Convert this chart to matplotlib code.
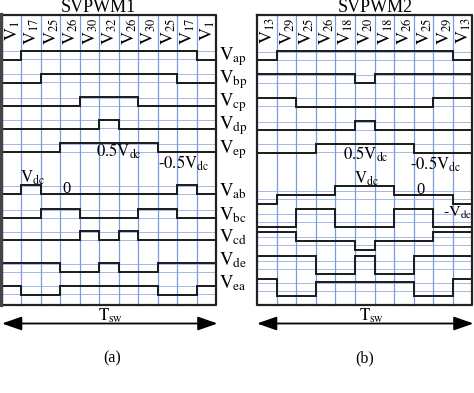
import numpy as np
import matplotlib
matplotlib.use("Agg")
import matplotlib.pyplot as plt

plt.rcParams['font.family'] = ['Liberation Serif', 'DejaVu Serif']
plt.rcParams['mathtext.fontset'] = 'stix'

# switching sequence per sub-interval (column headers)
seq_a = ["1", "17", "25", "26", "30", "32", "26", "30", "25", "17", "1"]
seq_b = ["13", "29", "25", "26", "18", "20", "18", "26", "25", "29", "13"]

signals = ["ap", "bp", "cp", "dp", "ep", "ab", "bc", "cd", "de", "ea"]

# levels of each waveform in every sub-interval (units of one step)
ap_a = [0, 1, 1, 1, 1, 1, 1, 1, 1, 1, 0]
bp_a = [0, 0, 1, 1, 1, 1, 1, 1, 1, 0, 0]
cp_a = [0, 0, 0, 0, 1, 1, 1, 0, 0, 0, 0]
dp_a = [0, 0, 0, 0, 0, 1, 0, 0, 0, 0, 0]
ep_a = [0, 0, 0, 1, 1, 1, 1, 1, 0, 0, 0]
ab_a = [0, 1, 0, 0, 0, 0, 0, 0, 0, 1, 0]
bc_a = [0, 0, 1, 1, 0, 0, 0, 1, 1, 0, 0]
cd_a = [0, 0, 0, 0, 1, 0, 1, 0, 0, 0, 0]
de_a = [0, 0, 0, -1, -1, 0, -1, -1, 0, 0, 0]
ea_a = [0, -1, -1, 0, 0, 0, 0, 0, -1, -1, 0]

ap_b = [0, 1, 1, 1, 1, 1, 1, 1, 1, 1, 0]
bp_b = [1, 1, 1, 1, 1, 0, 1, 1, 1, 1, 1]
cp_b = [1, 1, 0, 0, 0, 0, 0, 0, 0, 1, 1]
dp_b = [0, 0, 0, 0, 0, 1, 0, 0, 0, 0, 0]
ep_b = [0, 0, 0, 1, 1, 1, 1, 1, 0, 0, 0]
ab_b = [-1, 0, 0, 0, 1, 1, 1, 0, 0, 0, -1]
bc_b = [-1, -1, 1, 1, -1, -1, -1, 1, 1, -1, -1]
cd_b = [1, 1, 0, 0, 0, -1, 0, 0, 0, 1, 1]
de_b = [1, 1, 1, -1, -1, 1, -1, -1, 1, 1, 1]
ea_b = [0.35, -1.6, -1.6, 0, 0, 0, 0, 0, -1.6, -1.6, 0.35]

waves_a = [ap_a, bp_a, cp_a, dp_a, ep_a, ab_a, bc_a, cd_a, de_a, ea_a]
waves_b = [ap_b, bp_b, cp_b, dp_b, ep_b, ab_b, bc_b, cd_b, de_b, ea_b]

# layout (pixels)
base_a = [59.5, 82.7, 106, 128.5, 152.3, 194.3, 218.3, 240, 263.3, 285.7]
base_b = [60, 83.3, 106.7, 130, 152.7, 195, 218.3, 241, 265, 281.7]
STEP = 9.0
TOP, BOT = 15, 304.5
GRID = '#7d9be0'

fig = plt.figure(figsize=(4.74, 3.93), dpi=100)
ax = fig.add_axes([0, 0, 1, 1])
ax.set_xlim(0, 474)
ax.set_ylim(393, 0)
ax.axis('off')


def panel(left, right, seq, waves, bases):
    edges = np.linspace(left, right, len(seq) + 1)
    # vertical grid
    for e in edges[1:-1]:
        ax.plot([e, e], [TOP, BOT], color=GRID, lw=0.9, zorder=1)
    # horizontal grid, two lines inside each row band
    for w, b in zip(waves, bases):
        lv = np.array(w, dtype=float)
        hi = b - STEP * lv.max()
        lo = b - STEP * lv.min()
        if lo - hi < STEP:
            hi, lo = b - STEP, b
        c = (hi + lo) / 2
        for yy in (c - 4, c + 4):
            ax.plot([left, right], [yy, yy], color=GRID, lw=0.7, alpha=0.7, zorder=1)
    # waveforms
    for w, b in zip(waves, bases):
        ys = b - STEP * np.array(w, dtype=float)
        xs = np.repeat(edges, 2)[1:-1]
        ax.plot(xs, np.repeat(ys, 2), color='#1a1a1a', lw=1.4, zorder=3,
                solid_joinstyle='miter')
    # frame
    ax.plot([left, right, right, left, left], [TOP, TOP, BOT, BOT, TOP],
            color='#222222', lw=1.6, zorder=4)
    # column headers
    for i, s in enumerate(seq):
        xc = (edges[i] + edges[i + 1]) / 2
        ax.text(xc + 1, 31, r'$\mathrm{V}_{%s}$' % s, rotation=90, fontsize=13,
                ha='center', va='center', zorder=5)
    # T_sw arrow
    ax.annotate('', xy=(left, 323.5), xytext=(right + 1, 323.5),
                arrowprops=dict(arrowstyle='<|-|>,head_length=1.2,head_width=0.42',
                                color='black', lw=1.3, mutation_scale=10,
                                shrinkA=0, shrinkB=0))


panel(2, 216.5, seq_a, waves_a, base_a)
panel(257, 472.5, seq_b, waves_b, base_b)

# thick left border of panel (a)
ax.plot([1.5, 1.5], [TOP, BOT], color='#444444', lw=3, zorder=4)

# row labels between panels
for s, b in zip(signals, base_a):
    ax.text(219, b - 3, r'$\mathrm{V}_{\mathrm{%s}}$' % s, fontsize=13.5,
            ha='left', va='center')

ax.text(98, 7, 'SVPWM1', fontsize=13, ha='center', va='center')
ax.text(375, 7, 'SVPWM2', fontsize=13, ha='center', va='center')

# level annotations
fs = 12
ax.text(119, 151, r'$0.5\mathrm{V}_{\mathrm{dc}}$', fontsize=fs, ha='center', va='center')
ax.text(184, 163, r'$\text{-}0.5\mathrm{V}_{\mathrm{dc}}$', fontsize=fs, ha='center', va='center')
ax.text(32, 178, r'$\mathrm{V}_{\mathrm{dc}}$', fontsize=fs, ha='center', va='center')
ax.text(67, 189, '0', fontsize=fs, ha='center', va='center')
ax.text(366, 154, r'$0.5\mathrm{V}_{\mathrm{dc}}$', fontsize=fs, ha='center', va='center')
ax.text(436, 164, r'$\text{-}0.5\mathrm{V}_{\mathrm{dc}}$', fontsize=fs, ha='center', va='center')
ax.text(366, 179, r'$\mathrm{V}_{\mathrm{dc}}$', fontsize=fs, ha='center', va='center')
ax.text(421, 190, '0', fontsize=fs, ha='center', va='center')
ax.text(472, 213, r'$\text{-}\mathrm{V}_{\mathrm{dc}}$', fontsize=11.5, ha='right', va='center')

ax.text(111, 316, r'$\mathrm{T}_{\mathrm{sw}}$', fontsize=12, ha='center', va='center')
ax.text(372, 316, r'$\mathrm{T}_{\mathrm{sw}}$', fontsize=12, ha='center', va='center')
ax.text(112, 358, '(a)', fontsize=11.5, ha='center', va='center')
ax.text(365, 358, '(b)', fontsize=11.5, ha='center', va='center')

fig.savefig('out.png', dpi=100)
